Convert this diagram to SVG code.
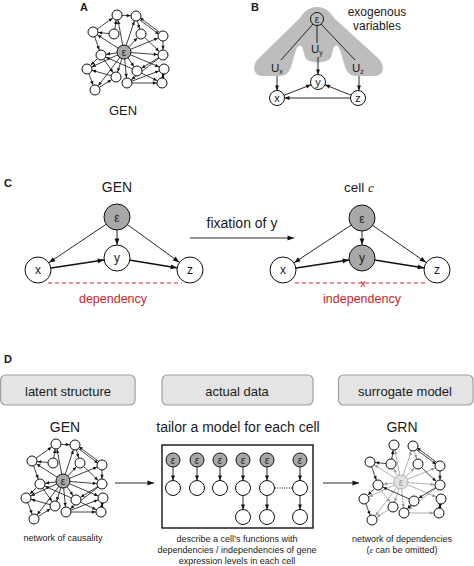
<svg xmlns="http://www.w3.org/2000/svg" xmlns:xlink="http://www.w3.org/1999/xlink" width="474" height="566" viewBox="0 0 474 566">
<style>
text{font-family:"Liberation Sans",Arial,sans-serif;fill:#1a1a1a}
.lbl{font-weight:bold;font-size:11px}
.n{fill:#fff;stroke:#111;stroke-width:1}
.ne{fill:#a8a8a8;stroke:#111;stroke-width:1}
.e{stroke:#111;stroke-width:0.8;fill:none}
.eg{stroke:#9a9a9a;stroke-width:0.8;fill:none}
.thin{stroke:#111;stroke-width:0.9;fill:none}
.thick{stroke:#111;stroke-width:1.7;fill:none}
.red{stroke:#d42a2a;stroke-width:1.2;stroke-dasharray:4 3;fill:none}
.box{fill:#e4e4e4;stroke:#a0a0a0;stroke-width:1.2}
</style>
<defs>
<marker id="as" markerUnits="userSpaceOnUse" viewBox="-12 -4 12 8" markerWidth="12" markerHeight="8" refX="0" refY="0" orient="auto-start-reverse" overflow="visible"><path d="M-9.2,-1.7 L-5.6,0 L-9.2,1.7 z" fill="#111"/></marker>
<marker id="ag" markerUnits="userSpaceOnUse" viewBox="-12 -4 12 8" markerWidth="12" markerHeight="8" refX="0" refY="0" orient="auto-start-reverse" overflow="visible"><path d="M-9.2,-1.7 L-5.6,0 L-9.2,1.7 z" fill="#9a9a9a"/></marker>
<marker id="ac" markerUnits="userSpaceOnUse" viewBox="-22 -4 22 8" markerWidth="22" markerHeight="8" refX="0" refY="0" orient="auto" overflow="visible"><path d="M-19.5,-2.4 L-13.3,0 L-19.5,2.4 z" fill="#111"/></marker>
<marker id="ab" markerUnits="userSpaceOnUse" viewBox="-14 -4 14 8" markerWidth="14" markerHeight="8" refX="0" refY="0" orient="auto" overflow="visible"><path d="M-12.5,-2 L-7.6,0 L-12.5,2 z" fill="#111"/></marker>
<marker id="a0" markerUnits="userSpaceOnUse" viewBox="-8 -4 8 8" markerWidth="8" markerHeight="8" refX="0" refY="0" orient="auto" overflow="visible"><path d="M-5,-2 L0,0 L-5,2 z" fill="#111"/></marker>
<marker id="a1" markerUnits="userSpaceOnUse" viewBox="-8 -4 8 8" markerWidth="8" markerHeight="8" refX="0" refY="0" orient="auto" overflow="visible"><path d="M-6.5,-2.6 L0,0 L-6.5,2.6 z" fill="#111"/></marker>
<g id="gen">
<g class="edges">
<path class="e" marker-end="url(#as)" d="M-31,-20 L-7,-37"/>
<path class="e" marker-end="url(#as)" d="M-7,-37 L12,-36"/>
<path class="e" marker-end="url(#as)" d="M12.5,-34.5 L39.5,-14.5"/>
<path class="e" marker-end="url(#as)" d="M38.5,-17.5 L11.5,-37.5"/>
<path class="e" marker-end="url(#as)" d="M-10,-18 L-31,-20"/>
<path class="e" marker-end="url(#as)" d="M-10,-18 L-7,-37"/>
<path class="e" marker-end="url(#as)" d="M12,-36 L17,-18"/>
<path class="e" marker-end="url(#as)" d="M39,-16 L39,3"/>
<path class="e" marker-end="url(#as)" d="M-31,-20 L-23,3"/>
<path class="e" marker-end="url(#as)" d="M0,0 L-7,-37"/>
<path class="e" marker-end="url(#as)" d="M0,0 L12,-36"/>
<path class="e" marker-end="url(#as)" d="M0,0 L-31,-20"/>
<path class="e" marker-end="url(#as)" d="M0,0 L17,-18"/>
<path class="e" marker-end="url(#as)" d="M0,0 L39,-16"/>
<path class="e" marker-end="url(#as)" d="M0,0 L39,3"/>
<path class="e" marker-end="url(#as)" d="M0,0 L-23,3"/>
<path class="e" marker-end="url(#as)" d="M0,0 L-37,17"/>
<path class="e" marker-end="url(#as)" d="M0,0 L-8,25"/>
<path class="e" marker-end="url(#as)" d="M0,0 L13,19"/>
<path class="e" marker-end="url(#as)" d="M0,0 L3,31"/>
<path class="e" marker-end="url(#as)" d="M0,0 L40,17"/>
<path class="e" marker-end="url(#as)" d="M0,0 L-29,38"/>
<path class="e" marker-end="url(#as)" d="M-23,3 L-37,17"/>
<path class="e" marker-end="url(#as)" d="M-37,17 L-29,38"/>
<path class="e" marker-end="url(#as)" d="M-23,3 L-8,25"/>
<path class="e" marker-end="url(#as)" d="M-8,25 L-37,17"/>
<path class="e" marker-end="url(#as)" d="M13,19 L-23,3"/>
<path class="e" marker-end="url(#as)" d="M39,3 L13,19"/>
<path class="e" marker-end="url(#as)" d="M3,31 L40,17"/>
<path class="e" marker-end="url(#as)" d="M13,19 L38,31"/>
<path class="e" marker-end="url(#as)" d="M3,31 L38,31"/>
<path class="e" marker-end="url(#as)" marker-start="url(#as)" d="M40,17 L38,31"/>
<path class="e" marker-end="url(#as)" d="M17,-18 L39,3"/>
<path class="e" marker-end="url(#as)" d="M39,3 L3,31"/>
<path class="e" marker-end="url(#as)" d="M-29,38 L-8,25"/>
</g>
<g class="nodes">
<circle class="n" cx="-7" cy="-37" r="5"/><circle class="n" cx="12" cy="-36" r="5"/>
<circle class="n" cx="-31" cy="-20" r="5"/><circle class="n" cx="-10" cy="-18" r="5"/>
<circle class="n" cx="17" cy="-18" r="5"/><circle class="n" cx="39" cy="-16" r="5"/>
<circle class="n" cx="-23" cy="3" r="5"/><circle class="n" cx="39" cy="3" r="5"/>
<circle class="n" cx="-37" cy="17" r="5"/><circle class="n" cx="-8" cy="25" r="5"/>
<circle class="n" cx="13" cy="19" r="5"/><circle class="n" cx="40" cy="17" r="5"/>
<circle class="n" cx="3" cy="31" r="5"/><circle class="n" cx="38" cy="31" r="5"/>
<circle class="n" cx="-29" cy="38" r="5"/>
<circle class="ne" cx="0" cy="0" r="7"/>
<text x="0" y="3.5" font-size="10" text-anchor="middle">ε</text>
</g>
</g>
</defs>

<!-- Panel A -->
<g id="panelA">
<text class="lbl" x="80" y="11">A</text>
<use xlink:href="#gen" href="#gen" transform="translate(124,52)"/>
<text x="123" y="115" font-size="13" text-anchor="middle">GEN</text>
</g>

<!-- Panel B -->
<g id="panelB">
<text class="lbl" x="251" y="11">B</text>
<path d="M317,7 C326,7 330,12 334,18 L378,58 C386,66 384,76 374,76 L356,76 C350,76 347,72 345,67 L340,50 C338,45 334,44 333,50 L331,57 C329,64 307,64 305,57 L303,50 C302,44 298,45 296,50 L291,67 C289,72 286,76 280,76 L263,76 C254,76 251,67 258,59 L300,18 C304,12 308,7 317,7 Z" fill="#bdbdbd"/>
<text x="377" y="16" font-size="12" text-anchor="middle">exogenous</text>
<text x="377" y="30" font-size="12" text-anchor="middle">variables</text>
<g id="b-edges">
<path class="thin" d="M313,24 L281,60"/>
<path class="thin" d="M317,26 L317,43"/>
<path class="thin" d="M321,24 L355,60"/>
<path class="thin" marker-end="url(#a0)" d="M277,76 L277,90.5"/>
<path class="thin" marker-end="url(#a0)" d="M318,57 L318,74.5"/>
<path class="thin" marker-end="url(#a0)" d="M359,76 L359,90.5"/>
<path class="thin" stroke-width="1.1" marker-end="url(#ab)" d="M277,98 L318,82"/>
<path class="thin" stroke-width="1.1" marker-end="url(#ab)" d="M358,98 L318,82"/>
<path class="thin" stroke-width="1.1" marker-end="url(#ab)" d="M358,98 L277,98"/>
</g>
<g id="b-eps"><circle cx="317" cy="19" r="6.5" fill="none" stroke="#111" stroke-width="1"/><text x="317" y="22.5" font-size="10" text-anchor="middle">ε</text></g>
<text x="271" y="72" font-size="11.5">U<tspan font-size="7" dy="2">x</tspan></text>
<text x="311" y="53" font-size="11.5">U<tspan font-size="7" dy="2">y</tspan></text>
<text x="352" y="72" font-size="11.5">U<tspan font-size="7" dy="2">z</tspan></text>
<g id="b-x"><circle class="n" cx="277" cy="98" r="7.5"/><text x="277" y="102" font-size="11" text-anchor="middle">x</text></g>
<g id="b-y"><circle class="n" cx="318" cy="82" r="7.5"/><text x="318" y="86" font-size="11" text-anchor="middle">y</text></g>
<g id="b-z"><circle class="n" cx="358" cy="98" r="7.5"/><text x="358" y="102" font-size="11" text-anchor="middle">z</text></g>
</g>

<!-- Panel C -->
<g id="panelC">
<text class="lbl" x="4" y="187">C</text>
<text x="117" y="192" font-size="14" text-anchor="middle">GEN</text>
<g id="c-edges">
<path class="thin" marker-end="url(#ac)" d="M117,217 L38,270"/>
<path class="thin" marker-end="url(#ac)" d="M117,217 L117,258"/>
<path class="thin" marker-end="url(#ac)" d="M117,217 L190,270"/>
<path class="thick" marker-end="url(#ac)" d="M38,270 L117,258"/>
<path class="thick" marker-end="url(#ac)" d="M117,258 L190,270"/>
<path class="thin" marker-end="url(#ac)" d="M362,218 L283,270"/>
<path class="thin" marker-end="url(#ac)" d="M362,218 L362,258"/>
<path class="thin" marker-end="url(#ac)" d="M362,218 L437,270"/>
<path class="thick" marker-end="url(#ac)" d="M283,270 L362,258"/>
<path class="thick" marker-end="url(#ac)" d="M362,258 L437,270"/>
<path class="thin" stroke-width="1.2" marker-end="url(#a1)" d="M190,238 L294,238"/>
</g>
<text x="242" y="228" font-size="14" text-anchor="middle">fixation of y</text>
<g id="c-eps1"><circle class="ne" cx="117" cy="217" r="13"/><text x="117" y="221.5" font-size="12" text-anchor="middle">ε</text></g>
<g id="c-y1"><circle class="n" cx="117" cy="258" r="13"/><text x="117" y="262" font-size="12" text-anchor="middle">y</text></g>
<g id="c-x1"><circle class="n" cx="38" cy="270" r="13"/><text x="38" y="274" font-size="12" text-anchor="middle">x</text></g>
<g id="c-z1"><circle class="n" cx="190" cy="270" r="13"/><text x="190" y="274" font-size="12" text-anchor="middle">z</text></g>
<path class="red" d="M48,283 L182,283"/>
<text x="113" y="303" font-size="12.5" text-anchor="middle" style="fill:#c8252a">dependency</text>

<text x="344" y="192" font-size="13.5">cell <tspan font-family="'Liberation Serif',serif" font-style="italic">c</tspan></text>
<g id="c-eps2"><circle class="ne" cx="362" cy="218" r="13"/><text x="362" y="222.5" font-size="12" text-anchor="middle">ε</text></g>
<g id="c-y2"><circle class="ne" cx="362" cy="258" r="13"/><text x="362" y="262" font-size="12" text-anchor="middle">y</text></g>
<g id="c-x2"><circle class="n" cx="283" cy="270" r="13"/><text x="283" y="274" font-size="12" text-anchor="middle">x</text></g>
<g id="c-z2"><circle class="n" cx="437" cy="270" r="13"/><text x="437" y="274" font-size="12" text-anchor="middle">z</text></g>
<path class="red" d="M295,283 L428,283"/>
<text x="363" y="286.5" font-size="11" text-anchor="middle" style="fill:#c8252a">x</text>
<text x="362" y="303" font-size="12.5" text-anchor="middle" style="fill:#c8252a">independency</text>
</g>

<!-- Panel D -->
<g id="panelD">
<text class="lbl" x="4" y="363">D</text>
<g id="box1"><rect class="box" x="0.6" y="375" width="134.5" height="30" rx="5"/><text x="68" y="396" font-size="13" text-anchor="middle">latent structure</text></g>
<g id="box2"><rect class="box" x="162" y="375" width="151" height="30" rx="5"/><text x="237" y="396" font-size="13" text-anchor="middle">actual data</text></g>
<g id="box3"><rect class="box" x="338.5" y="375" width="134.5" height="30" rx="5"/><text x="405" y="396" font-size="13" text-anchor="middle">surrogate model</text></g>

<text x="65" y="432" font-size="14" text-anchor="middle">GEN</text>
<use xlink:href="#gen" href="#gen" transform="translate(63,481)"/>
<text x="63" y="541" font-size="9" text-anchor="middle">network of causality</text>

<text x="238" y="432" font-size="14" text-anchor="middle">tailor a model for each cell</text>
<rect x="162" y="445" width="151" height="83" fill="none" stroke="#111" stroke-width="1.4"/>
<g id="d-edges">
<path class="thin" marker-end="url(#a1)" stroke-width="1.2" d="M115,483 L154,483"/>
<path class="thin" marker-end="url(#a1)" stroke-width="1.2" d="M323,483 L359,483"/>
<path class="thin" stroke-width="1.2" marker-end="url(#ab)" d="M173,460 L173,488"/>
<path class="thin" stroke-width="1.2" marker-end="url(#ab)" d="M197,460 L197,488"/>
<path class="thin" stroke-width="1.2" marker-end="url(#ab)" d="M220,460 L220,488"/>
<path class="thin" stroke-width="1.2" marker-end="url(#ab)" d="M243,460 L243,488"/>
<path class="thin" stroke-width="1.2" marker-end="url(#ab)" d="M267,460 L267,488"/>
<path class="thin" stroke-width="1.2" marker-end="url(#ab)" d="M300,460 L300,488"/>
<path class="thin" stroke-width="1.2" marker-end="url(#ab)" d="M243,488 L243,517"/>
<path class="thin" stroke-width="1.2" marker-end="url(#ab)" d="M267,488 L267,517"/>
<path class="thin" stroke-width="1.2" marker-end="url(#ab)" d="M300,488 L300,517"/>
<path stroke="#111" stroke-width="1" stroke-dasharray="1 1.3" d="M275,488 L292,488"/>
</g>
<g id="d-cells">
<circle class="ne" cx="173" cy="460" r="7"/><text x="173" y="463.5" font-size="10" text-anchor="middle" font-style="italic">ε</text>
<circle class="ne" cx="197" cy="460" r="7"/><text x="197" y="463.5" font-size="10" text-anchor="middle" font-style="italic">ε</text>
<circle class="ne" cx="220" cy="460" r="7"/><text x="220" y="463.5" font-size="10" text-anchor="middle" font-style="italic">ε</text>
<circle class="ne" cx="243" cy="460" r="7"/><text x="243" y="463.5" font-size="10" text-anchor="middle" font-style="italic">ε</text>
<circle class="ne" cx="267" cy="460" r="7"/><text x="267" y="463.5" font-size="10" text-anchor="middle" font-style="italic">ε</text>
<circle class="ne" cx="300" cy="460" r="7"/><text x="300" y="463.5" font-size="10" text-anchor="middle" font-style="italic">ε</text>
<circle class="n" cx="173" cy="488" r="7.5"/><circle class="n" cx="197" cy="488" r="7.5"/>
<circle class="n" cx="220" cy="488" r="7.5"/><circle class="n" cx="243" cy="488" r="7.5"/>
<circle class="n" cx="267" cy="488" r="7.5"/><circle class="n" cx="300" cy="488" r="7.5"/>
<circle class="n" cx="243" cy="517" r="7.5"/><circle class="n" cx="267" cy="517" r="7.5"/>
<circle class="n" cx="300" cy="517" r="7.5"/>
</g>
<text x="237" y="542" font-size="9" text-anchor="middle">describe a cell’s functions with</text>
<text x="237" y="553" font-size="9" text-anchor="middle">dependencies / independencies of gene</text>
<text x="237" y="564" font-size="9" text-anchor="middle">expression levels in each cell</text>

<text x="402" y="432" font-size="14" text-anchor="middle">GRN</text>
<g id="grn" transform="translate(401,482)">
<g class="edges">
<path class="eg" marker-end="url(#ag)" d="M0,0 L-7,-37"/>
<path class="eg" marker-end="url(#ag)" d="M0,0 L12,-36"/>
<path class="eg" marker-end="url(#ag)" d="M0,0 L-31,-20"/>
<path class="eg" marker-end="url(#ag)" d="M0,0 L-10,-18"/>
<path class="eg" marker-end="url(#ag)" d="M0,0 L17,-18"/>
<path class="eg" marker-end="url(#ag)" d="M0,0 L39,-16"/>
<path class="eg" marker-end="url(#ag)" d="M0,0 L39,3"/>
<path class="eg" marker-end="url(#ag)" d="M0,0 L-23,3"/>
<path class="eg" marker-end="url(#ag)" d="M0,0 L-37,17"/>
<path class="eg" marker-end="url(#ag)" d="M0,0 L-8,25"/>
<path class="eg" marker-end="url(#ag)" d="M0,0 L3,31"/>
<path class="eg" marker-end="url(#ag)" d="M0,0 L40,17"/>
<path class="eg" marker-end="url(#ag)" d="M0,0 L-29,38"/>
<path class="eg" marker-end="url(#ag)" d="M-23,3 L-8,25"/>
<path class="eg" marker-end="url(#ag)" d="M-8,25 L-29,38"/>
<path class="eg" marker-end="url(#ag)" d="M12,-36 L17,-18"/>
<path class="eg" marker-end="url(#ag)" d="M39,3 L3,31"/>
<path class="eg" marker-end="url(#ag)" d="M3,31 L38,31"/>
<path class="e" marker-end="url(#as)" d="M12.5,-34.5 L39.5,-14.5"/>
<path class="e" marker-end="url(#as)" d="M38.5,-17.5 L11.5,-37.5"/>
<path class="e" stroke-width="1.1" marker-end="url(#as)" d="M-10,-18 L-7,-37"/>
<path class="e" stroke-width="1.1" marker-end="url(#as)" d="M-10,-18 L-31,-20"/>
<path class="e" stroke-width="1.1" marker-end="url(#as)" d="M-31,-20 L-23,3"/>
<path class="e" stroke-width="1.1" marker-end="url(#as)" d="M-37,17 L-29,38"/>
<path class="e" stroke-width="1.1" marker-end="url(#as)" d="M-23,3 L-37,17"/>
<path class="e" stroke-width="1.1" marker-end="url(#as)" d="M13,19 L-23,3"/>
<path class="e" stroke-width="1.1" marker-end="url(#as)" d="M39,-16 L39,3"/>
<path class="e" stroke-width="1.1" marker-end="url(#as)" d="M17,-18 L39,3"/>
<path class="e" stroke-width="1.1" marker-end="url(#as)" d="M39,3 L13,19"/>
<path class="e" stroke-width="1.1" marker-end="url(#as)" d="M13,19 L3,31"/>
<path class="e" stroke-width="1.1" marker-end="url(#as)" marker-start="url(#as)" d="M40,17 L38,31"/>
</g>
<g class="nodes">
<circle class="n" cx="-7" cy="-37" r="5"/><circle class="n" cx="12" cy="-36" r="5"/>
<circle class="n" cx="-31" cy="-20" r="5"/><circle class="n" cx="-10" cy="-18" r="5"/>
<circle class="n" cx="17" cy="-18" r="5"/><circle class="n" cx="39" cy="-16" r="5"/>
<circle class="n" cx="-23" cy="3" r="5"/><circle class="n" cx="39" cy="3" r="5"/>
<circle class="n" cx="-37" cy="17" r="5"/><circle class="n" cx="-8" cy="25" r="5"/>
<circle class="n" cx="13" cy="19" r="5"/><circle class="n" cx="40" cy="17" r="5"/>
<circle class="n" cx="3" cy="31" r="5"/><circle class="n" cx="38" cy="31" r="5"/>
<circle class="n" cx="-29" cy="38" r="5"/>
<circle cx="0" cy="0" r="7" fill="#e2e2e2" stroke="#b0b0b0" stroke-width="1"/>
<text x="0" y="3.5" font-size="10" text-anchor="middle" style="fill:#9a9a9a">ε</text>
</g>
</g>
<text x="402" y="542" font-size="9" text-anchor="middle">network of dependencies</text>
<text x="402" y="553" font-size="9" text-anchor="middle">(<tspan font-family="'Liberation Serif',serif" font-style="italic">ε</tspan> can be omitted)</text>
</g>
</svg>
